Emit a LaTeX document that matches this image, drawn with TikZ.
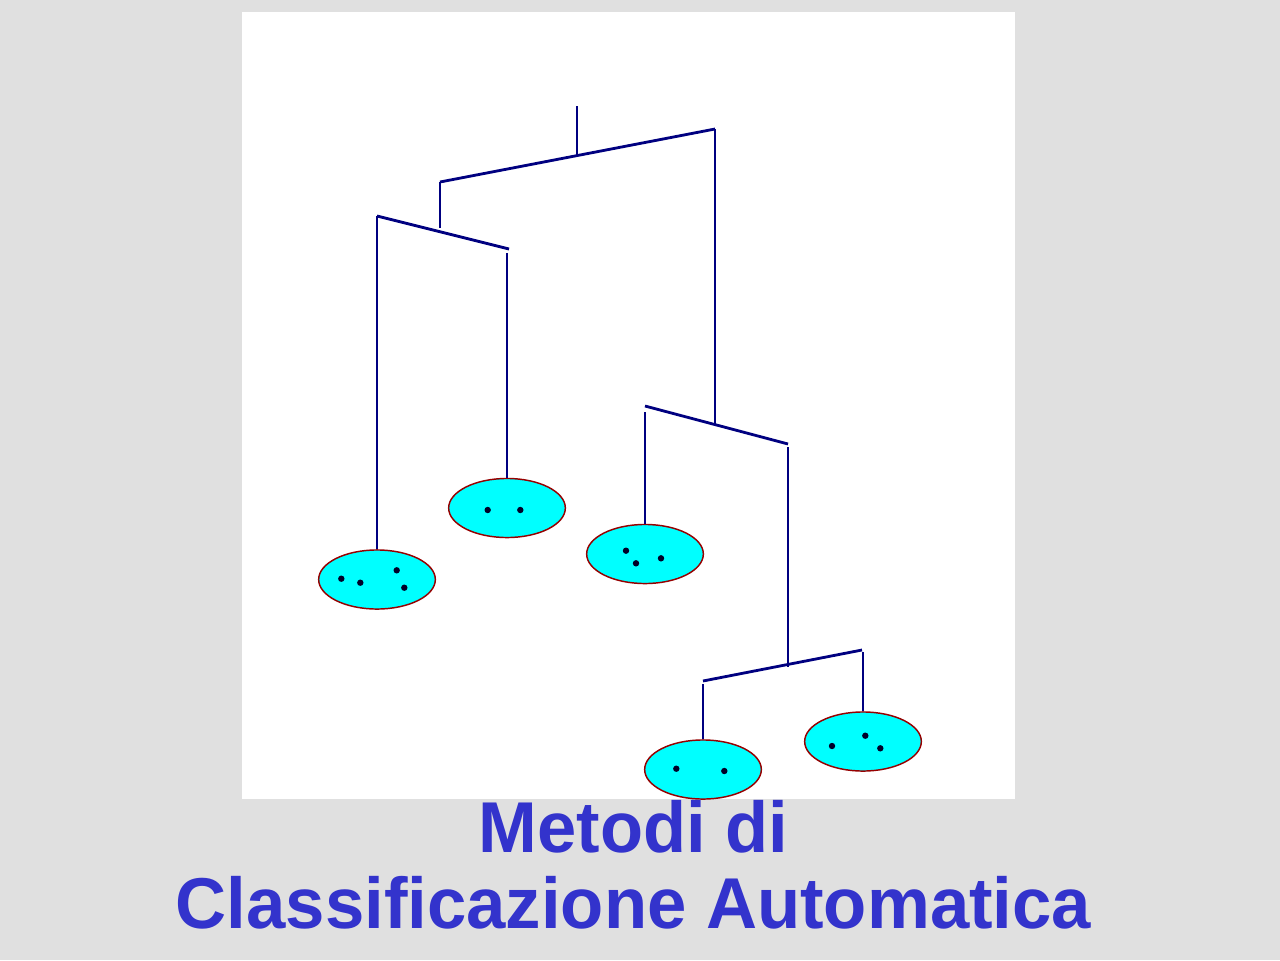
\documentclass[tikz,border=0pt]{standalone}
\usepackage{fontspec}
\setmainfont{Liberation Sans}
\usetikzlibrary{shapes.geometric}
\definecolor{bg}{RGB}{224,224,224}
\definecolor{navyline}{RGB}{0,0,128}
\definecolor{clusterfill}{RGB}{0,255,255}
\definecolor{clusteredge}{RGB}{150,0,0}
\definecolor{titleblue}{RGB}{51,51,204}
\definecolor{dotcol}{RGB}{0,0,40}
\begin{document}
\begin{tikzpicture}[x=0.75pt,y=-0.75pt,
  branch/.style={draw=navyline,line width=2.1pt},
  cluster/.style={ellipse,draw=clusteredge,fill=clusterfill,line width=1.1pt,
    minimum width=87.5pt,minimum height=44.3pt,inner sep=0pt},
  member/.style={circle,fill=dotcol,inner sep=0pt,minimum size=4.8pt},
  titletext/.style={anchor=base,text=titleblue,inner sep=0pt,
    font=\fontsize{54}{60}\selectfont\bfseries}]
\fill[bg] (0,0) rectangle (1280,960);
\fill[white] (242,12) rectangle (1015,799);
\useasboundingbox (0,0) rectangle (1280,960);

% junction coordinates
\coordinate (r0) at (577,106);
\coordinate (r1) at (577,155);
\coordinate (aL) at (440,182);
\coordinate (aR) at (715,129);
\coordinate (aL2) at (440,228);
\coordinate (aR2) at (715,425);
\coordinate (bL) at (377,216);
\coordinate (bR) at (509,249);
\coordinate (bR2) at (507,253);
\coordinate (cL) at (645,406);
\coordinate (cR) at (788,444);
\coordinate (cL2) at (645,412);
\coordinate (cR2) at (788,447);
\coordinate (cR3) at (788,667);
\coordinate (dL) at (703,681);
\coordinate (dR) at (862,650);
\coordinate (dL2) at (703,684);
\coordinate (dR2) at (863,652);

% branches
\draw[branch] (r0) -- (r1);
\draw[branch] (aL) -- (aR);
\draw[branch] (aL) -- (aL2);
\draw[branch] (aR) -- (aR2);
\draw[branch] (bL) -- (bR);
\draw[branch] (cL) -- (cR);
\draw[branch] (cR2) -- (cR3);
\draw[branch] (dL) -- (dR);

% clusters
\node[cluster] (e1) at (377,579.5) {};
\node[cluster] (e2) at (507,508) {};
\node[cluster] (e3) at (645,554) {};
\node[cluster] (e4) at (703,769.5) {};
\node[cluster] (e5) at (863,741.5) {};

\draw[branch] (bL) -- (e1.north);
\draw[branch] (bR2) -- (e2.north);
\draw[branch] (cL2) -- (e3.north);
\draw[branch] (dL2) -- (e4.north);
\draw[branch] (dR2) -- (e5.north);

% members
\node[member] (p11) at (341.3,578.7) {};
\node[member] (p12) at (360.3,582.7) {};
\node[member] (p13) at (396.7,570.3) {};
\node[member] (p14) at (404.3,587.7) {};
\node[member] (p21) at (487.7,510) {};
\node[member] (p22) at (520.3,510) {};
\node[member] (p31) at (626,550.7) {};
\node[member] (p32) at (636,563.3) {};
\node[member] (p33) at (661,558.3) {};
\node[member] (p41) at (676.3,768.7) {};
\node[member] (p42) at (724.3,771) {};
\node[member] (p51) at (832,746) {};
\node[member] (p52) at (865.3,735.7) {};
\node[member] (p53) at (880.3,748.3) {};

% title
\node[titletext] (t1) at (633.5,852) {\scalebox{0.979}[1]{Metodi di}};
\node[titletext] (t2) at (633.5,928) {\scalebox{0.982}[1]{Classificazione Automatica}};
\end{tikzpicture}
\end{document}
